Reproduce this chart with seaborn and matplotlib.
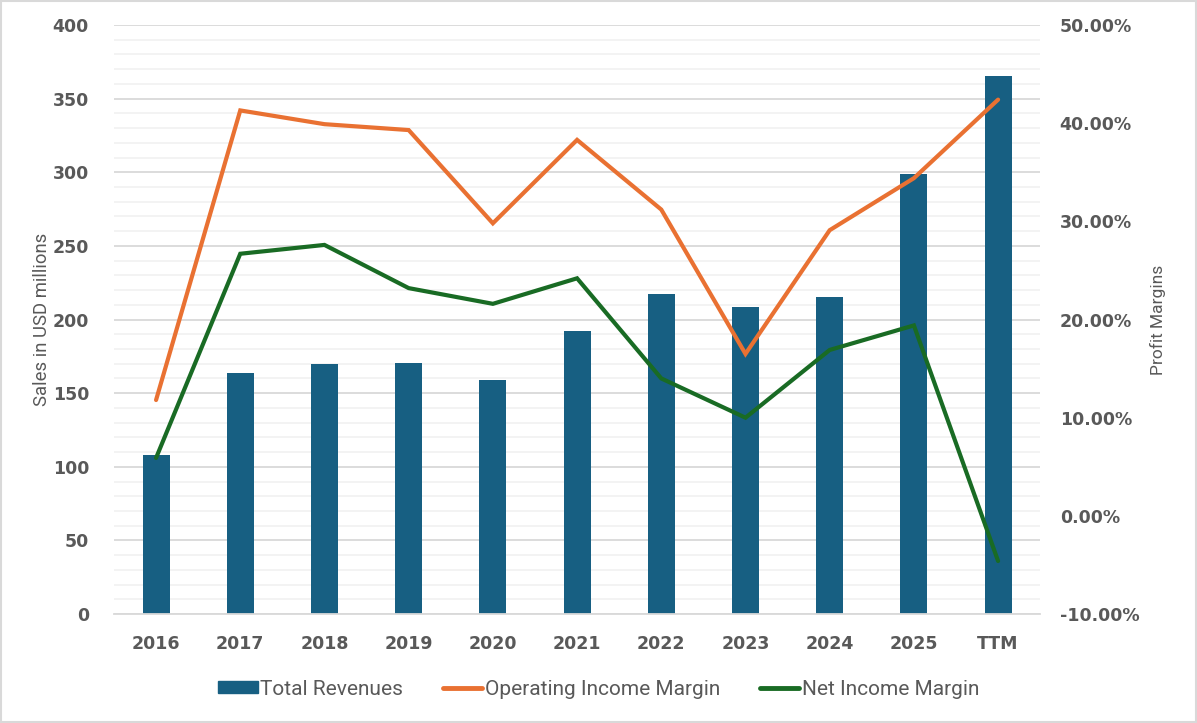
import numpy as np
import pandas as pd
import matplotlib
matplotlib.use("Agg")
import matplotlib.pyplot as plt
from matplotlib.lines import Line2D
from matplotlib.patches import Patch, Rectangle
from matplotlib.ticker import MultipleLocator, FuncFormatter
import seaborn as sns

categories = ["2016", "2017", "2018", "2019", "2020", "2021", "2022", "2023", "2024", "2025", "TTM"]
revenues = [108, 163.5, 169.5, 170.2, 158.6, 192, 217.6, 208.2, 215, 298.5, 365.5]
op_margin = [11.8, 41.3, 39.9, 39.3, 29.8, 38.3, 31.2, 16.5, 29.1, 34.4, 42.4]
net_margin = [5.9, 26.7, 27.6, 23.2, 21.6, 24.2, 14.0, 10.0, 16.9, 19.4, -4.6]

sns.set_style("white")
plt.rcParams['font.family'] = ['DejaVu Sans']

BAR = "#175F82"
ORANGE = "#E97132"
GREEN = "#196B24"
TXT = "#595959"

fig = plt.figure(figsize=(11.97, 7.23), dpi=100)
ax = fig.add_axes([0.0952, 0.1507, 0.869 - 0.0952, 0.9654 - 0.1507])
ax2 = ax.twinx()

df = pd.DataFrame({"cat": categories, "rev": revenues,
                   "op": op_margin, "net": net_margin})
df["pos"] = np.arange(len(categories))

sns.barplot(data=df, x="cat", y="rev", ax=ax, color=BAR, width=0.32,
            saturation=1, order=categories, linewidth=0)
ax.set_xlim(-0.5, len(categories) - 0.5)
ax.set_ylim(0, 400)
ax.yaxis.set_major_locator(MultipleLocator(50))
ax.yaxis.set_minor_locator(MultipleLocator(10))
ax.grid(which="major", axis="y", color="#D9D9D9", lw=1.3, zorder=0)
ax.grid(which="minor", axis="y", color="#F2F2F2", lw=1.3, zorder=0)
ax.set_axisbelow(True)

sns.lineplot(data=df, x="pos", y="op", ax=ax2, color=ORANGE, lw=3.0,
             solid_capstyle="round", solid_joinstyle="miter")
sns.lineplot(data=df, x="pos", y="net", ax=ax2, color=GREEN, lw=3.0,
             solid_capstyle="round", solid_joinstyle="miter")
ax2.set_xlim(-0.5, len(categories) - 0.5)
ax2.set_ylim(-10, 50)
ax2.yaxis.set_major_locator(MultipleLocator(10))
ax2.yaxis.set_major_formatter(FuncFormatter(lambda v, p: f"{v:.2f}%"))

for a in (ax, ax2):
    for s in a.spines.values():
        s.set_visible(False)
    a.tick_params(length=0, which="both")
ax.spines["bottom"].set_visible(True)
ax.spines["bottom"].set_color("#D9D9D9")
ax.spines["bottom"].set_linewidth(1.3)

for lab in ax.get_yticklabels() + ax.get_xticklabels() + ax2.get_yticklabels():
    lab.set_fontfamily("DejaVu Sans")
    lab.set_fontweight("bold")
    lab.set_fontsize(12.5)
    lab.set_color(TXT)
ax.tick_params(axis="y", pad=18)
ax.tick_params(axis="x", pad=15)
ax2.tick_params(axis="y", pad=14)

ax.set_xlabel("")
ax.set_ylabel("Sales in USD millions", family="Roboto", fontsize=13.3, color=TXT, labelpad=1)
ax2.set_ylabel("Profit Margins", family="Roboto", fontsize=12.5, color=TXT, labelpad=8)

handles = [Patch(facecolor=BAR, edgecolor=BAR),
           Line2D([], [], color=ORANGE, lw=3.5, solid_capstyle="round"),
           Line2D([], [], color=GREEN, lw=3.5, solid_capstyle="round")]
labels = ["Total Revenues", "Operating Income Margin", "Net Income Margin"]
leg = fig.legend(handles, labels, loc="center", bbox_to_anchor=(0.5, 0.047),
                 ncol=3, frameon=False, prop=dict(family="Roboto", size=15),
                 handlelength=1.9, handleheight=0.45, handletextpad=0.12,
                 columnspacing=1.9)
for t in leg.get_texts():
    t.set_color(TXT)

fig.patches.append(Rectangle((0.001, 0.001), 0.998, 0.997, transform=fig.transFigure,
                             fill=False, edgecolor="#D9D9D9", lw=1.5))

fig.savefig("out.png", dpi=100, facecolor="white")
